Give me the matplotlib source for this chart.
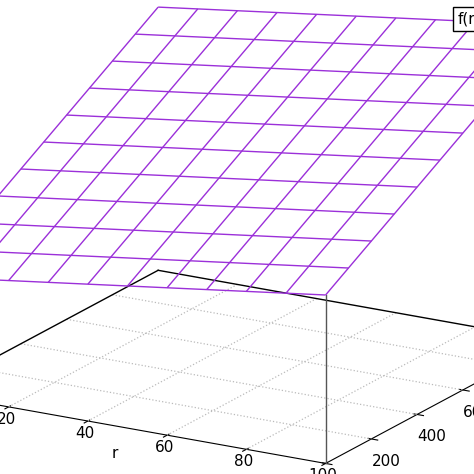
import numpy as np
import matplotlib
matplotlib.use("Agg")
import matplotlib.pyplot as plt

r_vals = [0, 10, 20, 30, 40, 50, 60, 70, 80, 90, 100]
y_vals = [0, 100, 200, 300, 400, 500, 600, 700, 800, 900, 1000]
z_vals = [
    [11.0, 12.4, 13.8, 15.2, 16.6, 18.0, 19.4, 20.8, 22.2, 23.6, 25.0],
    [11.5, 12.9, 14.3, 15.7, 17.1, 18.5, 19.9, 21.3, 22.7, 24.1, 25.5],
    [12.0, 13.4, 14.8, 16.2, 17.6, 19.0, 20.4, 21.8, 23.2, 24.6, 26.0],
    [12.5, 13.9, 15.3, 16.7, 18.1, 19.5, 20.9, 22.3, 23.7, 25.1, 26.5],
    [13.0, 14.4, 15.8, 17.2, 18.6, 20.0, 21.4, 22.8, 24.2, 25.6, 27.0],
    [13.5, 14.9, 16.3, 17.7, 19.1, 20.5, 21.9, 23.3, 24.7, 26.1, 27.5],
    [14.0, 15.4, 16.8, 18.2, 19.6, 21.0, 22.4, 23.8, 25.2, 26.6, 28.0],
    [14.5, 15.9, 17.3, 18.7, 20.1, 21.5, 22.9, 24.3, 25.7, 27.1, 28.5],
    [15.0, 16.4, 17.8, 19.2, 20.6, 22.0, 23.4, 24.8, 26.2, 27.6, 29.0],
    [15.5, 16.9, 18.3, 19.7, 21.1, 22.5, 23.9, 25.3, 26.7, 28.1, 29.5],
    [16.0, 17.4, 18.8, 20.2, 21.6, 23.0, 24.4, 25.8, 27.2, 28.6, 30.0],
]
r_ticks = [0, 20, 40, 60, 80, 100]
y_ticks = [0, 200, 400, 600, 800, 1000]

R, Y = np.meshgrid(r_vals, y_vals, indexing="ij")
Z = np.array(z_vals)
r0, r1 = r_vals[0], r_vals[-1]
y0, y1 = y_vals[0], y_vals[-1]

fig = plt.figure(figsize=(4.74, 4.74), dpi=100)
ax = fig.add_axes([-0.26, -0.2, 1.5, 1.5], projection="3d", proj_type="ortho")
ax.view_init(elev=18, azim=-60)
ax.grid(False)
for t in r_ticks[1:-1]:
    ax.plot([t, t], [y0, y1], [0, 0], color="#bbbbbb", linestyle=":", linewidth=0.9)
for t in y_ticks[1:-1]:
    ax.plot([r0, r1], [t, t], [0, 0], color="#bbbbbb", linestyle=":", linewidth=0.9)
ax.plot([r0, r1], [y1, y1], [0, 0], color="black", linewidth=1.0)
ax.plot([r0, r0], [y0, y1], [0, 0], color="black", linewidth=1.0)
ax.plot_wireframe(R, Y, Z, color="#9b30d9", linewidth=1.0)
ax.plot([r1, r1], [y0, y0], [0, z_vals[-1][0]], color="#555555", linewidth=1.0)
ax.set_xlim(0, 100)
ax.set_ylim(0, 1000)
ax.set_zlim(0, 31)
ax.set_xticks(r_ticks)
ax.set_yticks(y_ticks)
ax.set_zticks([])
ax.set_xlabel("r", labelpad=-6, fontsize=11)
for a in (ax.xaxis, ax.yaxis, ax.zaxis):
    a.set_pane_color((1, 1, 1, 0))
    a.pane.set_edgecolor((1, 1, 1, 0))
ax.zaxis.line.set_color((1, 1, 1, 0))
ax.tick_params(labelsize=11)
ax.tick_params(axis="x", pad=-5)
ax.tick_params(axis="y", pad=2)
fig.text(0.965, 0.96, "f(r,x)", ha="left", va="center", fontsize=11,
         bbox=dict(boxstyle="square", fc="white", ec="black"))
fig.savefig("out.png", dpi=100)
